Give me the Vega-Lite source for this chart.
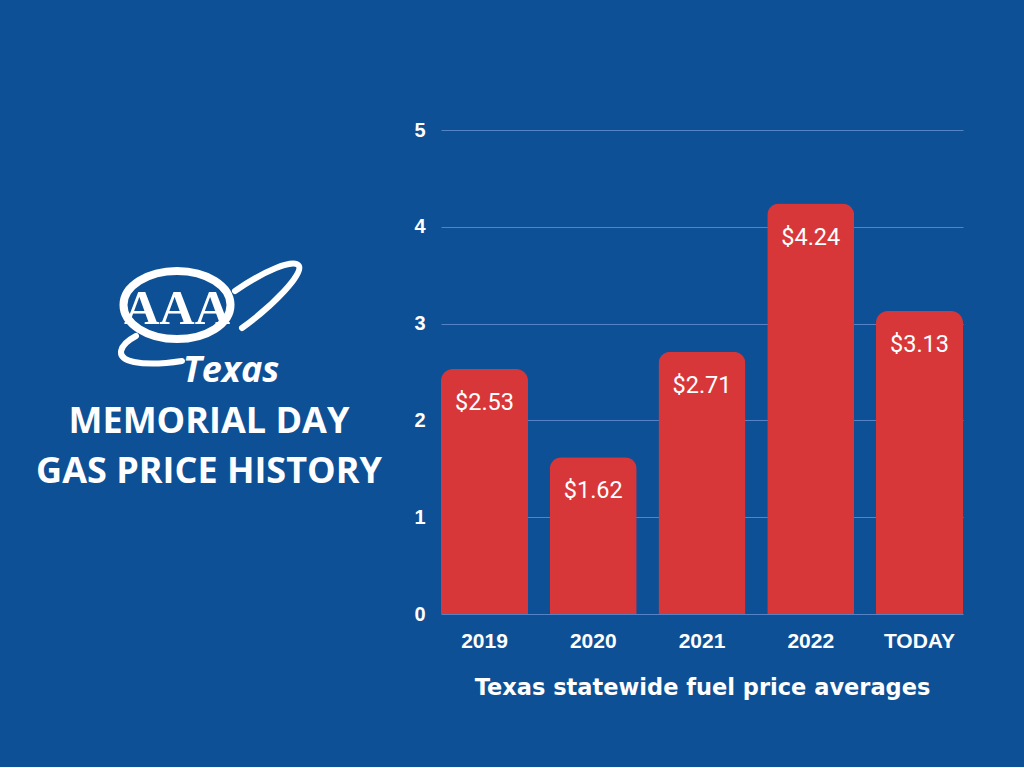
{
  "$schema": "https://vega.github.io/schema/vega-lite/v6.json",
  "background": "#0E5096",
  "padding": {"left": 18, "top": 120, "right": 62, "bottom": 68},
  "spacing": 15,
  "config": {
    "view": {"stroke": null},
    "axis": {"labelColor": "white", "titleColor": "white"}
  },
  "hconcat": [
    {
      "width": 380,
      "height": 484,
      "data": {
        "values": [
          {"item": "logo", "text": "AAA"},
          {"item": "Texas", "text": "Texas"},
          {"item": "title", "text": "MEMORIAL DAY\nGAS PRICE HISTORY"}
        ]
      },
      "encoding": {
        "y": {
          "field": "item",
          "type": "nominal",
          "sort": ["logo", "Texas", "title"],
          "scale": {"type": "point", "padding": 0, "range": [175, 290]},
          "axis": null
        }
      },
      "layer": [
        {
          "transform": [{"filter": "datum.item === 'logo'"}],
          "mark": {
            "type": "point",
            "shape": "M -84.5,0 A 53.5 34 0 1 0 22.5 0 A 53.5 34 0 1 0 -84.5 0 Z",
            "size": 4,
            "filled": false,
            "stroke": "white",
            "strokeWidth": 8,
            "opacity": 1
          }
        },
        {
          "transform": [{"filter": "datum.item === 'logo'"}],
          "mark": {
            "type": "point",
            "shape": "M 27 -14 C 56 -34, 86 -47, 91 -39 C 95 -31, 66 0, 34 23 M -72 31 C -89 40, -94 53, -74 57 C -59 60, -39 58, -26 56",
            "size": 4,
            "filled": false,
            "stroke": "white",
            "strokeWidth": 6,
            "strokeCap": "round",
            "opacity": 1
          }
        },
        {
          "transform": [{"filter": "datum.item === 'logo'"}],
          "mark": {
            "type": "text",
            "font": "Liberation Serif",
            "fontWeight": "bold",
            "fontSize": 49,
            "color": "white",
            "baseline": "middle",
            "align": "center",
            "dx": -31,
            "dy": 4
          },
          "encoding": {"text": {"field": "text"}}
        },
        {
          "transform": [{"filter": "datum.item === 'Texas'"}],
          "mark": {
            "type": "text",
            "font": "Open Sans",
            "fontWeight": "bold",
            "fontStyle": "italic",
            "fontSize": 36,
            "color": "white",
            "baseline": "middle",
            "align": "center",
            "dx": 23,
            "dy": 8
          },
          "encoding": {"text": {"field": "text"}}
        },
        {
          "transform": [{"filter": "datum.item === 'title'"}],
          "mark": {
            "type": "text",
            "font": "Open Sans",
            "fontWeight": "bold",
            "fontSize": 36,
            "lineHeight": 50,
            "lineBreak": "\n",
            "color": "white",
            "baseline": "middle",
            "align": "center",
            "dx": 1,
            "dy": 2
          },
          "encoding": {"text": {"field": "text"}}
        }
      ]
    },
    {
      "width": 522,
      "height": 484,
      "data": {
        "values": [
          {"year": "2019", "price": 2.53},
          {"year": "2020", "price": 1.62},
          {"year": "2021", "price": 2.71},
          {"year": "2022", "price": 4.24},
          {"year": "TODAY", "price": 3.13}
        ]
      },
      "encoding": {
        "x": {
          "field": "year",
          "type": "nominal",
          "sort": null,
          "scale": {"paddingInner": 0.2, "paddingOuter": 0},
          "axis": {
            "labelAngle": 0,
            "ticks": false,
            "domain": false,
            "labelFont": "Liberation Sans",
            "labelFontWeight": "bold",
            "labelFontSize": 21,
            "labelPadding": 16,
            "title": "Texas statewide fuel price averages",
            "titleFont": "DejaVu Sans",
            "titleFontWeight": "bold",
            "titleFontSize": 22.5,
            "titlePadding": 25
          }
        },
        "y": {
          "field": "price",
          "type": "quantitative",
          "scale": {"domain": [0, 5]},
          "axis": {
            "values": [0, 1, 2, 3, 4, 5],
            "title": null,
            "domain": false,
            "ticks": false,
            "grid": true,
            "gridColor": "#5484C6",
            "gridWidth": 1,
            "labelFont": "Liberation Sans",
            "labelFontWeight": "bold",
            "labelFontSize": 20,
            "labelPadding": 16
          }
        }
      },
      "layer": [
        {
          "mark": {
            "type": "bar",
            "color": "#D8373A",
            "cornerRadiusTopLeft": 12,
            "cornerRadiusTopRight": 12
          }
        },
        {
          "mark": {
            "type": "text",
            "font": "Roboto",
            "fontSize": 23.5,
            "color": "white",
            "baseline": "middle",
            "align": "center",
            "dy": 34
          },
          "encoding": {"text": {"field": "price", "type": "quantitative", "format": "$.2f"}}
        }
      ]
    }
  ]
}
